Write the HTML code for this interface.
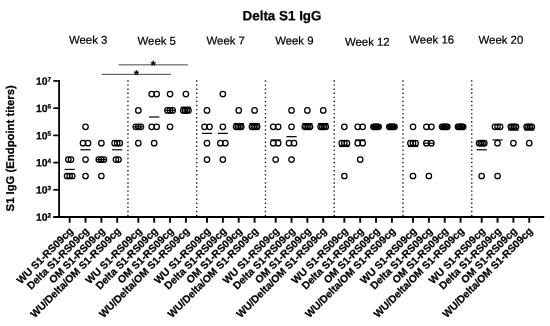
<!DOCTYPE html>
<html><head><meta charset="utf-8"><title>Delta S1 IgG</title>
<style>
html,body{margin:0;padding:0;background:#fff}
svg{display:block}
text{font-family:"Liberation Sans",sans-serif;fill:#000;text-rendering:geometricPrecision}
.b{font-weight:bold;stroke:#000;stroke-width:.25px}
.r{font-weight:normal;stroke:#000;stroke-width:.22px}
</style></head><body>
<svg width="550" height="326" viewBox="0 0 550 326">
<rect width="550" height="326" fill="#fff"/>
<line x1="127.95" y1="80.36" x2="127.95" y2="216" stroke="#222" stroke-width="1.4" stroke-dasharray="1.4 2.675"/>
<line x1="196.71" y1="80.36" x2="196.71" y2="216" stroke="#222" stroke-width="1.4" stroke-dasharray="1.4 2.675"/>
<line x1="265.47" y1="80.36" x2="265.47" y2="216" stroke="#222" stroke-width="1.4" stroke-dasharray="1.4 2.675"/>
<line x1="334.23" y1="80.36" x2="334.23" y2="216" stroke="#222" stroke-width="1.4" stroke-dasharray="1.4 2.675"/>
<line x1="402.99" y1="80.36" x2="402.99" y2="216" stroke="#222" stroke-width="1.4" stroke-dasharray="1.4 2.675"/>
<line x1="471.75" y1="80.36" x2="471.75" y2="216" stroke="#222" stroke-width="1.4" stroke-dasharray="1.4 2.675"/>
<path d="M59.1 80.15V218" stroke="#000" stroke-width="1.8" fill="none"/>
<path d="M53.4 216.95H544.2" stroke="#000" stroke-width="1.9" fill="none"/>
<path d="M53.3 217.05H59.5" stroke="#000" stroke-width="1.7" fill="none"/>
<text transform="translate(51.0 220.80) rotate(0.03)" text-anchor="end" class="b" font-size="10.4">10<tspan font-size="6.4" dy="-3.3">2</tspan></text>
<path d="M53.3 189.83H59.5" stroke="#000" stroke-width="1.7" fill="none"/>
<text transform="translate(51.0 193.58) rotate(0.03)" text-anchor="end" class="b" font-size="10.4">10<tspan font-size="6.4" dy="-3.3">3</tspan></text>
<path d="M53.3 162.61H59.5" stroke="#000" stroke-width="1.7" fill="none"/>
<text transform="translate(51.0 166.36) rotate(0.03)" text-anchor="end" class="b" font-size="10.4">10<tspan font-size="6.4" dy="-3.3">4</tspan></text>
<path d="M53.3 135.39H59.5" stroke="#000" stroke-width="1.7" fill="none"/>
<text transform="translate(51.0 139.14) rotate(0.03)" text-anchor="end" class="b" font-size="10.4">10<tspan font-size="6.4" dy="-3.3">5</tspan></text>
<path d="M53.3 108.17H59.5" stroke="#000" stroke-width="1.7" fill="none"/>
<text transform="translate(51.0 111.92) rotate(0.03)" text-anchor="end" class="b" font-size="10.4">10<tspan font-size="6.4" dy="-3.3">6</tspan></text>
<path d="M53.3 80.95H59.5" stroke="#000" stroke-width="1.7" fill="none"/>
<text transform="translate(51.0 84.70) rotate(0.03)" text-anchor="end" class="b" font-size="10.4">10<tspan font-size="6.4" dy="-3.3">7</tspan></text>
<path d="M69.67 217V222.7" stroke="#000" stroke-width="1.9" fill="none"/>
<text transform="translate(73.77 231.7) rotate(-45)" text-anchor="end" class="b" font-size="10.4">WU S1-RS09cg</text>
<path d="M64.57 169.42H74.77" stroke="#000" stroke-width="1.2" fill="none"/>
<circle cx="67.07" cy="175.98" r="2.72" fill="none" stroke="#000" stroke-width="1.27"/>
<circle cx="69.67" cy="175.98" r="2.72" fill="none" stroke="#000" stroke-width="1.27"/>
<circle cx="72.27" cy="175.98" r="2.72" fill="none" stroke="#000" stroke-width="1.27"/>
<circle cx="68.37" cy="159.59" r="2.72" fill="none" stroke="#000" stroke-width="1.27"/>
<circle cx="70.97" cy="159.59" r="2.72" fill="none" stroke="#000" stroke-width="1.27"/>
<path d="M85.52 217V222.7" stroke="#000" stroke-width="1.9" fill="none"/>
<text transform="translate(89.62 231.7) rotate(-45)" text-anchor="end" class="b" font-size="10.4">Delta S1-RS09cg</text>
<path d="M80.42 149.76H90.62" stroke="#000" stroke-width="1.2" fill="none"/>
<circle cx="85.52" cy="175.98" r="2.72" fill="none" stroke="#000" stroke-width="1.27"/>
<circle cx="85.52" cy="159.59" r="2.72" fill="none" stroke="#000" stroke-width="1.27"/>
<circle cx="83.02" cy="143.20" r="2.72" fill="none" stroke="#000" stroke-width="1.27"/>
<circle cx="88.02" cy="143.20" r="2.72" fill="none" stroke="#000" stroke-width="1.27"/>
<circle cx="85.52" cy="126.82" r="2.72" fill="none" stroke="#000" stroke-width="1.27"/>
<path d="M101.37 217V222.7" stroke="#000" stroke-width="1.9" fill="none"/>
<text transform="translate(105.47 231.7) rotate(-45)" text-anchor="end" class="b" font-size="10.4">OM S1-RS09cg</text>
<path d="M96.27 159.59H106.47" stroke="#000" stroke-width="1.2" fill="none"/>
<circle cx="101.37" cy="175.98" r="2.72" fill="none" stroke="#000" stroke-width="1.27"/>
<circle cx="98.77" cy="159.59" r="2.72" fill="none" stroke="#000" stroke-width="1.27"/>
<circle cx="101.37" cy="159.59" r="2.72" fill="none" stroke="#000" stroke-width="1.27"/>
<circle cx="103.97" cy="159.59" r="2.72" fill="none" stroke="#000" stroke-width="1.27"/>
<circle cx="101.37" cy="143.20" r="2.72" fill="none" stroke="#000" stroke-width="1.27"/>
<path d="M117.22 217V222.7" stroke="#000" stroke-width="1.9" fill="none"/>
<text transform="translate(121.32 231.7) rotate(-45)" text-anchor="end" class="b" font-size="10.4">WU/Delta/OM S1-RS09cg</text>
<path d="M112.12 149.76H122.32" stroke="#000" stroke-width="1.2" fill="none"/>
<circle cx="115.92" cy="159.59" r="2.72" fill="none" stroke="#000" stroke-width="1.27"/>
<circle cx="118.52" cy="159.59" r="2.72" fill="none" stroke="#000" stroke-width="1.27"/>
<circle cx="114.62" cy="143.20" r="2.72" fill="none" stroke="#000" stroke-width="1.27"/>
<circle cx="117.22" cy="143.20" r="2.72" fill="none" stroke="#000" stroke-width="1.27"/>
<circle cx="119.82" cy="143.20" r="2.72" fill="none" stroke="#000" stroke-width="1.27"/>
<path d="M138.34 217V222.7" stroke="#000" stroke-width="1.9" fill="none"/>
<text transform="translate(142.44 231.7) rotate(-45)" text-anchor="end" class="b" font-size="10.4">WU S1-RS09cg</text>
<path d="M133.24 126.82H143.44" stroke="#000" stroke-width="1.2" fill="none"/>
<circle cx="138.34" cy="143.20" r="2.72" fill="none" stroke="#000" stroke-width="1.27"/>
<circle cx="135.74" cy="126.82" r="2.72" fill="none" stroke="#000" stroke-width="1.27"/>
<circle cx="138.34" cy="126.82" r="2.72" fill="none" stroke="#000" stroke-width="1.27"/>
<circle cx="140.94" cy="126.82" r="2.72" fill="none" stroke="#000" stroke-width="1.27"/>
<circle cx="138.34" cy="110.43" r="2.72" fill="none" stroke="#000" stroke-width="1.27"/>
<path d="M154.19 217V222.7" stroke="#000" stroke-width="1.9" fill="none"/>
<text transform="translate(158.29 231.7) rotate(-45)" text-anchor="end" class="b" font-size="10.4">Delta S1-RS09cg</text>
<path d="M149.09 116.98H159.29" stroke="#000" stroke-width="1.2" fill="none"/>
<circle cx="154.19" cy="143.20" r="2.72" fill="none" stroke="#000" stroke-width="1.27"/>
<circle cx="151.69" cy="126.82" r="2.72" fill="none" stroke="#000" stroke-width="1.27"/>
<circle cx="156.69" cy="126.82" r="2.72" fill="none" stroke="#000" stroke-width="1.27"/>
<circle cx="151.69" cy="94.04" r="2.72" fill="none" stroke="#000" stroke-width="1.27"/>
<circle cx="156.69" cy="94.04" r="2.72" fill="none" stroke="#000" stroke-width="1.27"/>
<path d="M170.04 217V222.7" stroke="#000" stroke-width="1.9" fill="none"/>
<text transform="translate(174.14 231.7) rotate(-45)" text-anchor="end" class="b" font-size="10.4">OM S1-RS09cg</text>
<path d="M164.94 110.43H175.14" stroke="#000" stroke-width="1.2" fill="none"/>
<circle cx="170.04" cy="126.82" r="2.72" fill="none" stroke="#000" stroke-width="1.27"/>
<circle cx="167.44" cy="110.43" r="2.72" fill="none" stroke="#000" stroke-width="1.27"/>
<circle cx="170.04" cy="110.43" r="2.72" fill="none" stroke="#000" stroke-width="1.27"/>
<circle cx="172.64" cy="110.43" r="2.72" fill="none" stroke="#000" stroke-width="1.27"/>
<circle cx="170.04" cy="94.04" r="2.72" fill="none" stroke="#000" stroke-width="1.27"/>
<path d="M185.89 217V222.7" stroke="#000" stroke-width="1.9" fill="none"/>
<text transform="translate(189.99 231.7) rotate(-45)" text-anchor="end" class="b" font-size="10.4">WU/Delta/OM S1-RS09cg</text>
<path d="M180.79 107.15H190.99" stroke="#000" stroke-width="1.2" fill="none"/>
<circle cx="183.29" cy="110.43" r="2.72" fill="none" stroke="#000" stroke-width="1.27"/>
<circle cx="185.02" cy="110.43" r="2.72" fill="none" stroke="#000" stroke-width="1.27"/>
<circle cx="186.76" cy="110.43" r="2.72" fill="none" stroke="#000" stroke-width="1.27"/>
<circle cx="188.49" cy="110.43" r="2.72" fill="none" stroke="#000" stroke-width="1.27"/>
<circle cx="185.89" cy="94.04" r="2.72" fill="none" stroke="#000" stroke-width="1.27"/>
<path d="M207.01 217V222.7" stroke="#000" stroke-width="1.9" fill="none"/>
<text transform="translate(211.11 231.7) rotate(-45)" text-anchor="end" class="b" font-size="10.4">WU S1-RS09cg</text>
<path d="M201.91 133.37H212.11" stroke="#000" stroke-width="1.2" fill="none"/>
<circle cx="207.01" cy="159.59" r="2.72" fill="none" stroke="#000" stroke-width="1.27"/>
<circle cx="207.01" cy="143.20" r="2.72" fill="none" stroke="#000" stroke-width="1.27"/>
<circle cx="204.51" cy="126.82" r="2.72" fill="none" stroke="#000" stroke-width="1.27"/>
<circle cx="209.51" cy="126.82" r="2.72" fill="none" stroke="#000" stroke-width="1.27"/>
<circle cx="207.01" cy="110.43" r="2.72" fill="none" stroke="#000" stroke-width="1.27"/>
<path d="M222.86 217V222.7" stroke="#000" stroke-width="1.9" fill="none"/>
<text transform="translate(226.96 231.7) rotate(-45)" text-anchor="end" class="b" font-size="10.4">Delta S1-RS09cg</text>
<path d="M217.76 133.37H227.96" stroke="#000" stroke-width="1.2" fill="none"/>
<circle cx="222.86" cy="159.59" r="2.72" fill="none" stroke="#000" stroke-width="1.27"/>
<circle cx="220.36" cy="143.20" r="2.72" fill="none" stroke="#000" stroke-width="1.27"/>
<circle cx="225.36" cy="143.20" r="2.72" fill="none" stroke="#000" stroke-width="1.27"/>
<circle cx="222.86" cy="126.82" r="2.72" fill="none" stroke="#000" stroke-width="1.27"/>
<circle cx="222.86" cy="94.04" r="2.72" fill="none" stroke="#000" stroke-width="1.27"/>
<path d="M238.71 217V222.7" stroke="#000" stroke-width="1.9" fill="none"/>
<text transform="translate(242.81 231.7) rotate(-45)" text-anchor="end" class="b" font-size="10.4">OM S1-RS09cg</text>
<path d="M233.61 123.54H243.81" stroke="#000" stroke-width="1.2" fill="none"/>
<circle cx="236.11" cy="126.82" r="2.72" fill="none" stroke="#000" stroke-width="1.27"/>
<circle cx="237.84" cy="126.82" r="2.72" fill="none" stroke="#000" stroke-width="1.27"/>
<circle cx="239.58" cy="126.82" r="2.72" fill="none" stroke="#000" stroke-width="1.27"/>
<circle cx="241.31" cy="126.82" r="2.72" fill="none" stroke="#000" stroke-width="1.27"/>
<circle cx="238.71" cy="110.43" r="2.72" fill="none" stroke="#000" stroke-width="1.27"/>
<path d="M254.56 217V222.7" stroke="#000" stroke-width="1.9" fill="none"/>
<text transform="translate(258.66 231.7) rotate(-45)" text-anchor="end" class="b" font-size="10.4">WU/Delta/OM S1-RS09cg</text>
<path d="M249.46 123.54H259.66" stroke="#000" stroke-width="1.2" fill="none"/>
<circle cx="251.96" cy="126.82" r="2.72" fill="none" stroke="#000" stroke-width="1.27"/>
<circle cx="253.69" cy="126.82" r="2.72" fill="none" stroke="#000" stroke-width="1.27"/>
<circle cx="255.43" cy="126.82" r="2.72" fill="none" stroke="#000" stroke-width="1.27"/>
<circle cx="257.16" cy="126.82" r="2.72" fill="none" stroke="#000" stroke-width="1.27"/>
<circle cx="254.56" cy="110.43" r="2.72" fill="none" stroke="#000" stroke-width="1.27"/>
<path d="M275.68 217V222.7" stroke="#000" stroke-width="1.9" fill="none"/>
<text transform="translate(279.78 231.7) rotate(-45)" text-anchor="end" class="b" font-size="10.4">WU S1-RS09cg</text>
<path d="M270.58 139.93H280.78" stroke="#000" stroke-width="1.2" fill="none"/>
<circle cx="275.68" cy="159.59" r="2.72" fill="none" stroke="#000" stroke-width="1.27"/>
<circle cx="273.18" cy="143.20" r="2.72" fill="none" stroke="#000" stroke-width="1.27"/>
<circle cx="278.18" cy="143.20" r="2.72" fill="none" stroke="#000" stroke-width="1.27"/>
<circle cx="273.18" cy="126.82" r="2.72" fill="none" stroke="#000" stroke-width="1.27"/>
<circle cx="278.18" cy="126.82" r="2.72" fill="none" stroke="#000" stroke-width="1.27"/>
<path d="M291.53 217V222.7" stroke="#000" stroke-width="1.9" fill="none"/>
<text transform="translate(295.63 231.7) rotate(-45)" text-anchor="end" class="b" font-size="10.4">Delta S1-RS09cg</text>
<path d="M286.43 136.65H296.63" stroke="#000" stroke-width="1.2" fill="none"/>
<circle cx="291.53" cy="159.59" r="2.72" fill="none" stroke="#000" stroke-width="1.27"/>
<circle cx="289.03" cy="143.20" r="2.72" fill="none" stroke="#000" stroke-width="1.27"/>
<circle cx="294.03" cy="143.20" r="2.72" fill="none" stroke="#000" stroke-width="1.27"/>
<circle cx="291.53" cy="126.82" r="2.72" fill="none" stroke="#000" stroke-width="1.27"/>
<circle cx="291.53" cy="110.43" r="2.72" fill="none" stroke="#000" stroke-width="1.27"/>
<path d="M307.38 217V222.7" stroke="#000" stroke-width="1.9" fill="none"/>
<text transform="translate(311.48 231.7) rotate(-45)" text-anchor="end" class="b" font-size="10.4">OM S1-RS09cg</text>
<path d="M302.28 123.54H312.48" stroke="#000" stroke-width="1.2" fill="none"/>
<circle cx="304.78" cy="126.82" r="2.72" fill="none" stroke="#000" stroke-width="1.27"/>
<circle cx="306.51" cy="126.82" r="2.72" fill="none" stroke="#000" stroke-width="1.27"/>
<circle cx="308.25" cy="126.82" r="2.72" fill="none" stroke="#000" stroke-width="1.27"/>
<circle cx="309.98" cy="126.82" r="2.72" fill="none" stroke="#000" stroke-width="1.27"/>
<circle cx="307.38" cy="110.43" r="2.72" fill="none" stroke="#000" stroke-width="1.27"/>
<path d="M323.23 217V222.7" stroke="#000" stroke-width="1.9" fill="none"/>
<text transform="translate(327.33 231.7) rotate(-45)" text-anchor="end" class="b" font-size="10.4">WU/Delta/OM S1-RS09cg</text>
<path d="M318.13 123.54H328.33" stroke="#000" stroke-width="1.2" fill="none"/>
<circle cx="320.63" cy="126.82" r="2.72" fill="none" stroke="#000" stroke-width="1.27"/>
<circle cx="322.36" cy="126.82" r="2.72" fill="none" stroke="#000" stroke-width="1.27"/>
<circle cx="324.10" cy="126.82" r="2.72" fill="none" stroke="#000" stroke-width="1.27"/>
<circle cx="325.83" cy="126.82" r="2.72" fill="none" stroke="#000" stroke-width="1.27"/>
<circle cx="323.23" cy="110.43" r="2.72" fill="none" stroke="#000" stroke-width="1.27"/>
<path d="M344.35 217V222.7" stroke="#000" stroke-width="1.9" fill="none"/>
<text transform="translate(348.45 231.7) rotate(-45)" text-anchor="end" class="b" font-size="10.4">WU S1-RS09cg</text>
<path d="M339.25 146.48H349.45" stroke="#000" stroke-width="1.2" fill="none"/>
<circle cx="344.35" cy="175.98" r="2.72" fill="none" stroke="#000" stroke-width="1.27"/>
<circle cx="341.75" cy="143.20" r="2.72" fill="none" stroke="#000" stroke-width="1.27"/>
<circle cx="344.35" cy="143.20" r="2.72" fill="none" stroke="#000" stroke-width="1.27"/>
<circle cx="346.95" cy="143.20" r="2.72" fill="none" stroke="#000" stroke-width="1.27"/>
<circle cx="344.35" cy="126.82" r="2.72" fill="none" stroke="#000" stroke-width="1.27"/>
<path d="M360.20 217V222.7" stroke="#000" stroke-width="1.9" fill="none"/>
<text transform="translate(364.30 231.7) rotate(-45)" text-anchor="end" class="b" font-size="10.4">Delta S1-RS09cg</text>
<path d="M355.10 139.93H365.30" stroke="#000" stroke-width="1.2" fill="none"/>
<circle cx="360.20" cy="159.59" r="2.72" fill="none" stroke="#000" stroke-width="1.27"/>
<circle cx="357.70" cy="143.20" r="2.72" fill="none" stroke="#000" stroke-width="1.27"/>
<circle cx="362.70" cy="143.20" r="2.72" fill="none" stroke="#000" stroke-width="1.27"/>
<circle cx="357.70" cy="126.82" r="2.72" fill="none" stroke="#000" stroke-width="1.27"/>
<circle cx="362.70" cy="126.82" r="2.72" fill="none" stroke="#000" stroke-width="1.27"/>
<path d="M376.05 217V222.7" stroke="#000" stroke-width="1.9" fill="none"/>
<text transform="translate(380.15 231.7) rotate(-45)" text-anchor="end" class="b" font-size="10.4">OM S1-RS09cg</text>
<path d="M370.95 126.82H381.15" stroke="#000" stroke-width="1.2" fill="none"/>
<circle cx="373.45" cy="126.82" r="2.72" fill="none" stroke="#000" stroke-width="1.27"/>
<circle cx="374.75" cy="126.82" r="2.72" fill="none" stroke="#000" stroke-width="1.27"/>
<circle cx="376.05" cy="126.82" r="2.72" fill="none" stroke="#000" stroke-width="1.27"/>
<circle cx="377.35" cy="126.82" r="2.72" fill="none" stroke="#000" stroke-width="1.27"/>
<circle cx="378.65" cy="126.82" r="2.72" fill="none" stroke="#000" stroke-width="1.27"/>
<path d="M391.90 217V222.7" stroke="#000" stroke-width="1.9" fill="none"/>
<text transform="translate(396.00 231.7) rotate(-45)" text-anchor="end" class="b" font-size="10.4">WU/Delta/OM S1-RS09cg</text>
<path d="M386.80 126.82H397.00" stroke="#000" stroke-width="1.2" fill="none"/>
<circle cx="389.30" cy="126.82" r="2.72" fill="none" stroke="#000" stroke-width="1.27"/>
<circle cx="390.60" cy="126.82" r="2.72" fill="none" stroke="#000" stroke-width="1.27"/>
<circle cx="391.90" cy="126.82" r="2.72" fill="none" stroke="#000" stroke-width="1.27"/>
<circle cx="393.20" cy="126.82" r="2.72" fill="none" stroke="#000" stroke-width="1.27"/>
<circle cx="394.50" cy="126.82" r="2.72" fill="none" stroke="#000" stroke-width="1.27"/>
<path d="M413.02 217V222.7" stroke="#000" stroke-width="1.9" fill="none"/>
<text transform="translate(417.12 231.7) rotate(-45)" text-anchor="end" class="b" font-size="10.4">WU S1-RS09cg</text>
<path d="M407.92 146.48H418.12" stroke="#000" stroke-width="1.2" fill="none"/>
<circle cx="413.02" cy="175.98" r="2.72" fill="none" stroke="#000" stroke-width="1.27"/>
<circle cx="410.42" cy="143.20" r="2.72" fill="none" stroke="#000" stroke-width="1.27"/>
<circle cx="413.02" cy="143.20" r="2.72" fill="none" stroke="#000" stroke-width="1.27"/>
<circle cx="415.62" cy="143.20" r="2.72" fill="none" stroke="#000" stroke-width="1.27"/>
<circle cx="413.02" cy="126.82" r="2.72" fill="none" stroke="#000" stroke-width="1.27"/>
<path d="M428.87 217V222.7" stroke="#000" stroke-width="1.9" fill="none"/>
<text transform="translate(432.97 231.7) rotate(-45)" text-anchor="end" class="b" font-size="10.4">Delta S1-RS09cg</text>
<path d="M423.77 143.20H433.97" stroke="#000" stroke-width="1.2" fill="none"/>
<circle cx="428.87" cy="175.98" r="2.72" fill="none" stroke="#000" stroke-width="1.27"/>
<circle cx="426.37" cy="143.20" r="2.72" fill="none" stroke="#000" stroke-width="1.27"/>
<circle cx="431.37" cy="143.20" r="2.72" fill="none" stroke="#000" stroke-width="1.27"/>
<circle cx="426.37" cy="126.82" r="2.72" fill="none" stroke="#000" stroke-width="1.27"/>
<circle cx="431.37" cy="126.82" r="2.72" fill="none" stroke="#000" stroke-width="1.27"/>
<path d="M444.72 217V222.7" stroke="#000" stroke-width="1.9" fill="none"/>
<text transform="translate(448.82 231.7) rotate(-45)" text-anchor="end" class="b" font-size="10.4">OM S1-RS09cg</text>
<path d="M439.62 126.82H449.82" stroke="#000" stroke-width="1.2" fill="none"/>
<circle cx="442.12" cy="126.82" r="2.72" fill="none" stroke="#000" stroke-width="1.27"/>
<circle cx="443.42" cy="126.82" r="2.72" fill="none" stroke="#000" stroke-width="1.27"/>
<circle cx="444.72" cy="126.82" r="2.72" fill="none" stroke="#000" stroke-width="1.27"/>
<circle cx="446.02" cy="126.82" r="2.72" fill="none" stroke="#000" stroke-width="1.27"/>
<circle cx="447.32" cy="126.82" r="2.72" fill="none" stroke="#000" stroke-width="1.27"/>
<path d="M460.57 217V222.7" stroke="#000" stroke-width="1.9" fill="none"/>
<text transform="translate(464.67 231.7) rotate(-45)" text-anchor="end" class="b" font-size="10.4">WU/Delta/OM S1-RS09cg</text>
<path d="M455.47 126.82H465.67" stroke="#000" stroke-width="1.2" fill="none"/>
<circle cx="457.97" cy="126.82" r="2.72" fill="none" stroke="#000" stroke-width="1.27"/>
<circle cx="459.27" cy="126.82" r="2.72" fill="none" stroke="#000" stroke-width="1.27"/>
<circle cx="460.57" cy="126.82" r="2.72" fill="none" stroke="#000" stroke-width="1.27"/>
<circle cx="461.87" cy="126.82" r="2.72" fill="none" stroke="#000" stroke-width="1.27"/>
<circle cx="463.17" cy="126.82" r="2.72" fill="none" stroke="#000" stroke-width="1.27"/>
<path d="M481.69 217V222.7" stroke="#000" stroke-width="1.9" fill="none"/>
<text transform="translate(485.79 231.7) rotate(-45)" text-anchor="end" class="b" font-size="10.4">WU S1-RS09cg</text>
<path d="M476.59 149.76H486.79" stroke="#000" stroke-width="1.2" fill="none"/>
<circle cx="481.69" cy="175.98" r="2.72" fill="none" stroke="#000" stroke-width="1.27"/>
<circle cx="479.09" cy="143.20" r="2.72" fill="none" stroke="#000" stroke-width="1.27"/>
<circle cx="480.82" cy="143.20" r="2.72" fill="none" stroke="#000" stroke-width="1.27"/>
<circle cx="482.56" cy="143.20" r="2.72" fill="none" stroke="#000" stroke-width="1.27"/>
<circle cx="484.29" cy="143.20" r="2.72" fill="none" stroke="#000" stroke-width="1.27"/>
<path d="M497.54 217V222.7" stroke="#000" stroke-width="1.9" fill="none"/>
<text transform="translate(501.64 231.7) rotate(-45)" text-anchor="end" class="b" font-size="10.4">Delta S1-RS09cg</text>
<path d="M492.44 139.93H502.64" stroke="#000" stroke-width="1.2" fill="none"/>
<circle cx="497.54" cy="175.98" r="2.72" fill="none" stroke="#000" stroke-width="1.27"/>
<circle cx="497.54" cy="143.20" r="2.72" fill="none" stroke="#000" stroke-width="1.27"/>
<circle cx="494.94" cy="126.82" r="2.72" fill="none" stroke="#000" stroke-width="1.27"/>
<circle cx="497.54" cy="126.82" r="2.72" fill="none" stroke="#000" stroke-width="1.27"/>
<circle cx="500.14" cy="126.82" r="2.72" fill="none" stroke="#000" stroke-width="1.27"/>
<path d="M513.39 217V222.7" stroke="#000" stroke-width="1.9" fill="none"/>
<text transform="translate(517.49 231.7) rotate(-45)" text-anchor="end" class="b" font-size="10.4">OM S1-RS09cg</text>
<path d="M508.29 130.09H518.49" stroke="#000" stroke-width="1.2" fill="none"/>
<circle cx="513.39" cy="143.20" r="2.72" fill="none" stroke="#000" stroke-width="1.27"/>
<circle cx="510.79" cy="126.82" r="2.72" fill="none" stroke="#000" stroke-width="1.27"/>
<circle cx="512.52" cy="126.82" r="2.72" fill="none" stroke="#000" stroke-width="1.27"/>
<circle cx="514.26" cy="126.82" r="2.72" fill="none" stroke="#000" stroke-width="1.27"/>
<circle cx="515.99" cy="126.82" r="2.72" fill="none" stroke="#000" stroke-width="1.27"/>
<path d="M529.24 217V222.7" stroke="#000" stroke-width="1.9" fill="none"/>
<text transform="translate(533.34 231.7) rotate(-45)" text-anchor="end" class="b" font-size="10.4">WU/Delta/OM S1-RS09cg</text>
<path d="M524.14 130.09H534.34" stroke="#000" stroke-width="1.2" fill="none"/>
<circle cx="529.24" cy="143.20" r="2.72" fill="none" stroke="#000" stroke-width="1.27"/>
<circle cx="526.64" cy="126.82" r="2.72" fill="none" stroke="#000" stroke-width="1.27"/>
<circle cx="528.37" cy="126.82" r="2.72" fill="none" stroke="#000" stroke-width="1.27"/>
<circle cx="530.11" cy="126.82" r="2.72" fill="none" stroke="#000" stroke-width="1.27"/>
<circle cx="531.84" cy="126.82" r="2.72" fill="none" stroke="#000" stroke-width="1.27"/>
<text transform="translate(88.15 43.8) rotate(0.03)" text-anchor="middle" class="r" font-size="11.4">Week 3</text>
<text transform="translate(156.75 44.65) rotate(0.03)" text-anchor="middle" class="r" font-size="11.4">Week 5</text>
<text transform="translate(225.7 44.45) rotate(0.03)" text-anchor="middle" class="r" font-size="11.4">Week 7</text>
<text transform="translate(294.35 44.45) rotate(0.03)" text-anchor="middle" class="r" font-size="11.4">Week 9</text>
<text transform="translate(367.3 45.65) rotate(0.03)" text-anchor="middle" class="r" font-size="11.4">Week 12</text>
<text transform="translate(431.7 43.6) rotate(0.03)" text-anchor="middle" class="r" font-size="11.4">Week 16</text>
<text transform="translate(500.9 43.85) rotate(0.03)" text-anchor="middle" class="r" font-size="11.4">Week 20</text>
<text transform="translate(282 20.2) rotate(0.03)" text-anchor="middle" class="b" font-size="13.4">Delta S1 IgG</text>
<text transform="translate(14.3 148.3) rotate(-90)" text-anchor="middle" class="b" font-size="11.3">S1 IgG (Endpoint titers)</text>
<path d="M118.6 64.85H188" stroke="#333" stroke-width="0.9" fill="none"/>
<path d="M101.6 74.3H171" stroke="#333" stroke-width="0.9" fill="none"/>
<text transform="translate(153.15 69.4) rotate(0.03)" text-anchor="middle" class="b" font-size="12.5">*</text>
<text transform="translate(136.4 78.9) rotate(0.03)" text-anchor="middle" class="b" font-size="12.5">*</text>
</svg>
</body></html>
